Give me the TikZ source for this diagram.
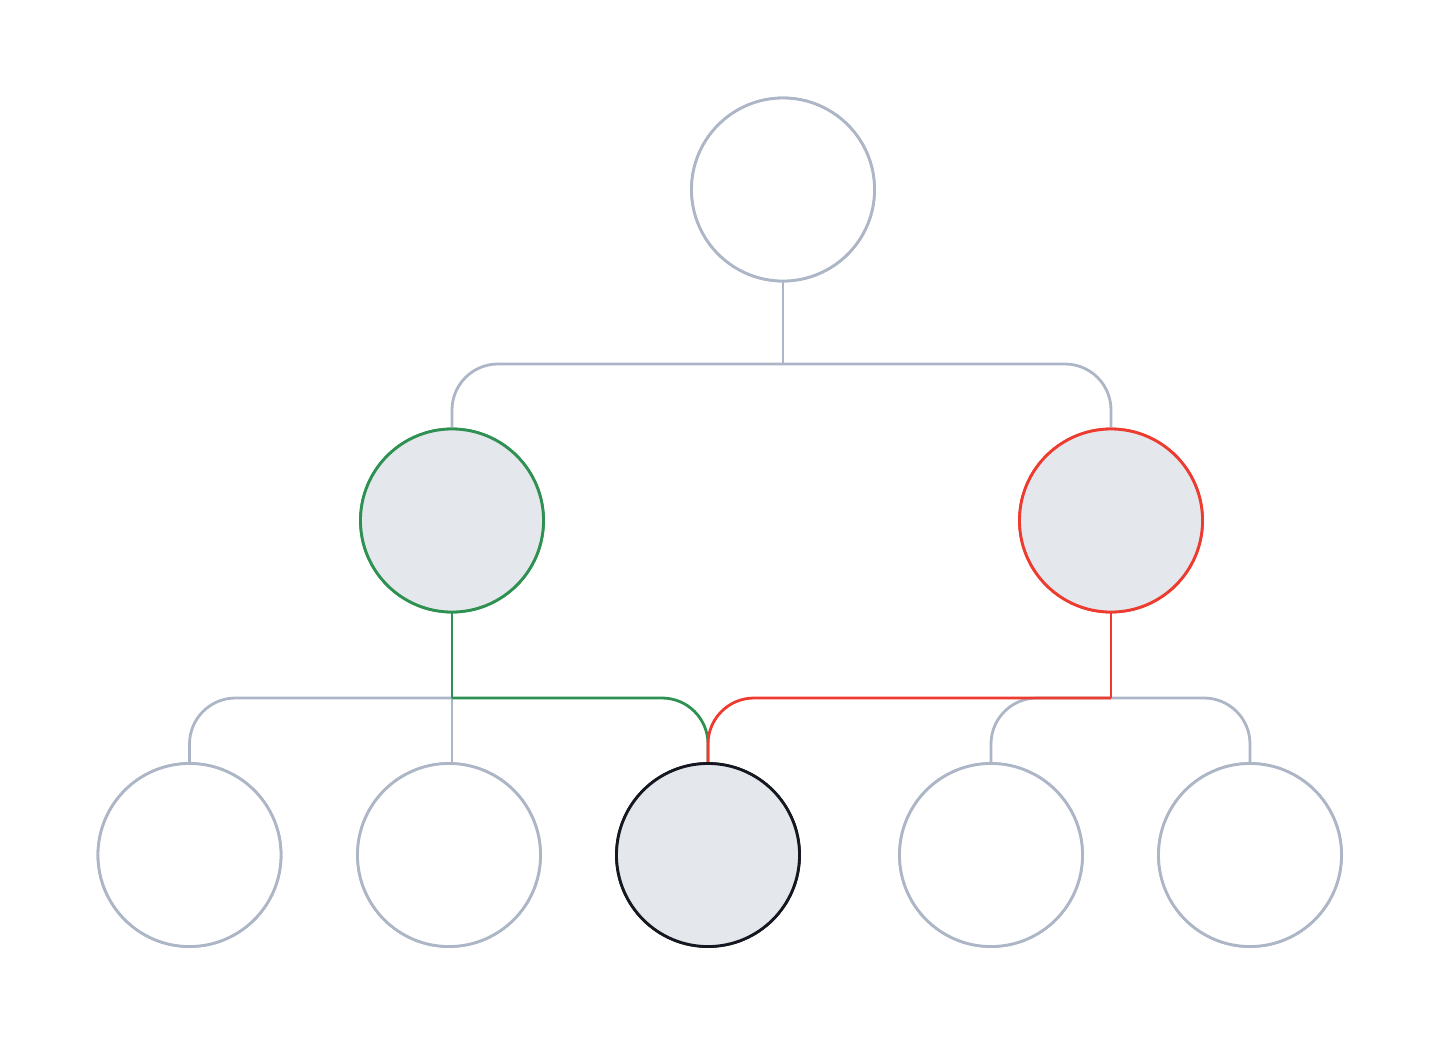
\documentclass[tikz,border=0pt]{standalone}
\definecolor{edgegray}{HTML}{ADB6C6}
\definecolor{fillgray}{HTML}{E4E7EC}
\definecolor{pathgreen}{HTML}{2E9152}
\definecolor{pathred}{HTML}{EE3B2F}
\definecolor{nodeblack}{HTML}{151820}
\begin{document}
\begin{tikzpicture}[x=0.5pt,y=-0.5pt,
  circ/.style={circle,minimum size=91.5pt,inner sep=0pt,line width=1.4pt,draw=edgegray,fill=white},
  hl/.style={fill=fillgray},
  conn/.style={line width=1.4pt,draw=edgegray},
  rc/.style={rounded corners=23pt}]
\useasboundingbox (0,0) rectangle (1440,1045);
% nodes
\node[circ] (top) at (783,189.5) {};
\node[circ,hl,draw=pathgreen] (m1) at (452,520.5) {};
\node[circ,hl,draw=pathred] (m2) at (1111,520.5) {};
\node[circ] (b1) at (189.5,855) {};
\node[circ] (b2) at (449,855) {};
\node[circ,hl,draw=nodeblack] (b3) at (708,855) {};
\node[circ] (b4) at (991,855) {};
\node[circ] (b5) at (1250,855) {};
% junctions
\coordinate (j1) at (783,364);
\coordinate (j2) at (452,698);
\coordinate (j3) at (1111,698);
% gray connectors
\begin{scope}[on background layer/.style={}]
\end{scope}
\draw[conn] (top.south) -- (j1);
\draw[conn,rc] (m1.north) |- (j1) -| (m2.north);
\draw[conn,rc] (b1.north) |- (j2);
\draw[conn] (j2) -- (j2 |- b2.north);
\draw[conn,rc] (b4.north) |- (j3) -| (b5.north);
% highlighted paths
\draw[conn,draw=pathgreen] (m1.south) -- (j2);
\draw[conn,draw=pathgreen,rc] (j2) -| (b3.north);
\draw[conn,draw=pathred] (m2.south) -- (j3);
\draw[conn,draw=pathred,rc] (j3) -| (b3.north);
% redraw nodes on top of line ends
\node[circ] at (top) {};
\node[circ,hl,draw=pathgreen] at (m1) {};
\node[circ,hl,draw=pathred] at (m2) {};
\node[circ] at (b1) {};
\node[circ] at (b2) {};
\node[circ,hl,draw=nodeblack] at (b3) {};
\node[circ] at (b4) {};
\node[circ] at (b5) {};
\end{tikzpicture}
\end{document}
